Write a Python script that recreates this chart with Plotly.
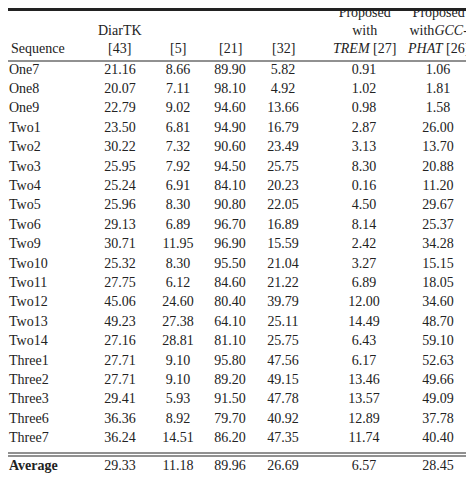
import plotly.graph_objects as go

sequences = ["One7","One8","One9","Two1","Two2","Two3","Two4","Two5","Two6","Two9","Two10","Two11","Two12","Two13","Two14","Three1","Three2","Three3","Three6","Three7"]
diartk = ["21.16","20.07","22.79","23.50","30.22","25.95","25.24","25.96","29.13","30.71","25.32","27.75","45.06","49.23","27.16","27.71","27.71","29.41","36.36","36.24"]
ref5 = ["8.66","7.11","9.02","6.81","7.32","7.92","6.91","8.30","6.89","11.95","8.30","6.12","24.60","27.38","28.81","9.10","9.10","5.93","8.92","14.51"]
ref21 = ["89.90","98.10","94.60","94.90","90.60","94.50","84.10","90.80","96.70","96.90","95.50","84.60","80.40","64.10","81.10","95.80","89.20","91.50","79.70","86.20"]
ref32 = ["5.82","4.92","13.66","16.79","23.49","25.75","20.23","22.05","16.89","15.59","21.04","21.22","39.79","25.11","25.75","47.56","49.15","47.78","40.92","47.35"]
trem = ["0.91","1.02","0.98","2.87","3.13","8.30","0.16","4.50","8.14","2.42","3.27","6.89","12.00","14.49","6.43","6.17","13.46","13.57","12.89","11.74"]
gcc = ["1.06","1.81","1.58","26.00","13.70","20.88","11.20","29.67","25.37","34.28","15.15","18.05","34.60","48.70","59.10","52.63","49.66","49.09","37.78","40.40"]
average = ["29.33","11.18","89.96","26.69","6.57","28.45"]
headers = ["Sequence","DiarTK<br>[43]","[5]","[21]","[32]","Proposed<br>with<br><i>TREM</i> [27]","Proposed<br>with<i>GCC-</i><br><i>PHAT</i> [26]"]

W, H = 474, 479
col_x = [1, 112, 170, 222, 275, 356, 430]
row_y0, row_dy = 62, 19.4
avg_y = 458
FONT = "Liberation Serif"
fs = 14

fig = go.Figure()
ys = [row_y0 + i*row_dy for i in range(len(sequences))]
fig.add_trace(go.Scatter(x=[col_x[0]]*len(sequences), y=ys, mode="text", text=sequences,
                         textposition="middle right", textfont=dict(family=FONT, size=fs, color="#222")))
for c, col in enumerate([diartk, ref5, ref21, ref32, trem, gcc], start=1):
    fig.add_trace(go.Scatter(x=[col_x[c]]*len(col), y=ys, mode="text", text=col,
                             textposition="middle center", textfont=dict(family=FONT, size=fs, color="#222")))
fig.add_trace(go.Scatter(x=[col_x[0]], y=[avg_y], mode="text", text=["<b>Average</b>"],
                         textposition="middle right", textfont=dict(family=FONT, size=fs, color="#222")))
fig.add_trace(go.Scatter(x=col_x[1:], y=[avg_y]*6, mode="text", text=average,
                         textposition="middle center", textfont=dict(family=FONT, size=fs, color="#222")))

for c, h in enumerate(headers):
    fig.add_annotation(x=col_x[c], y=50, xref="x", yref="y", text=h, showarrow=False, yanchor="bottom",
                       xanchor="left" if c == 0 else "center",
                       font=dict(family=FONT, size=fs, color="#222"), align="center")

def hline(y, w):
    fig.add_shape(type="line", xref="paper", yref="paper", x0=0, x1=1,
                  y0=1 - y / H, y1=1 - y / H, line=dict(color="#222", width=w), layer="above")
hline(1.5, 3)
hline(53, 1)
hline(445, 1)
hline(448, 1)
hline(477, 3)

fig.update_xaxes(range=[0, W], visible=False, fixedrange=True)
fig.update_yaxes(range=[H, 0], visible=False, fixedrange=True)
fig.update_layout(width=W, height=H, margin=dict(l=0, r=0, t=0, b=0, pad=0), showlegend=False,
                  plot_bgcolor="white", paper_bgcolor="white")
fig.write_html("out.html", config={"displayModeBar": False})
